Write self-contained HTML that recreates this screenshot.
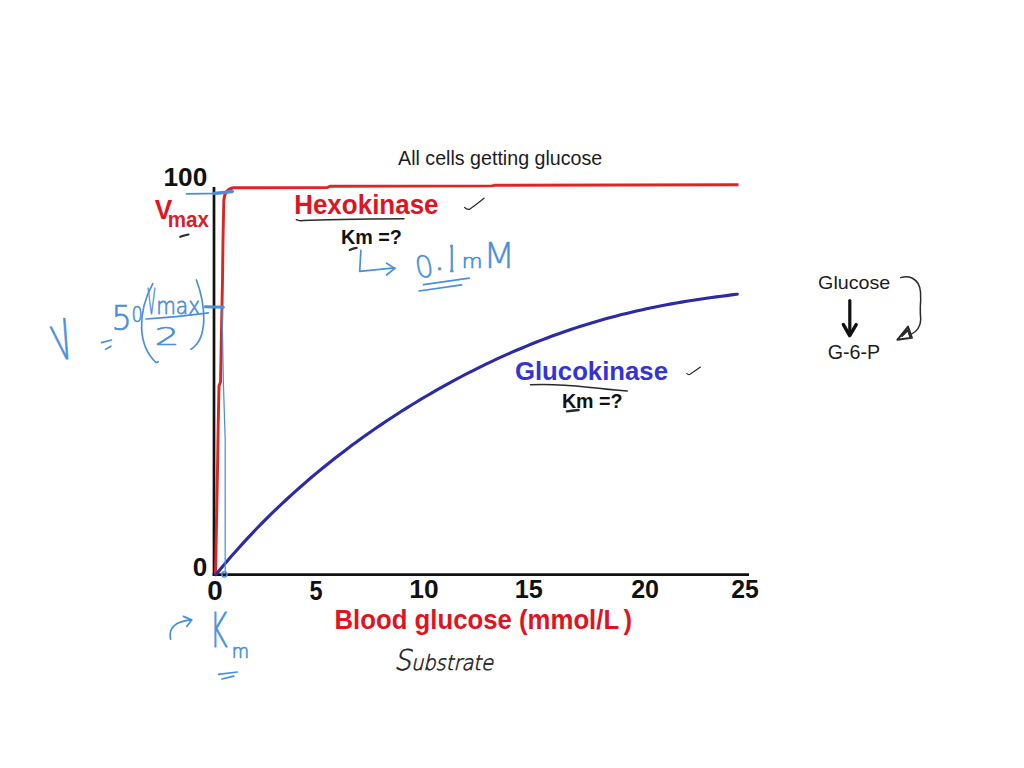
<!DOCTYPE html>
<html><head><meta charset="utf-8">
<title>Hexokinase vs Glucokinase</title>
<style>
html,body{margin:0;padding:0;background:#fff;overflow:hidden;}
svg{display:block;}
.b{font-weight:bold;}
.hw{fill:none;stroke:#4a8fdc;stroke-width:1.7;stroke-linecap:round;stroke-linejoin:round;}
.hk{fill:none;stroke:#2a2a2a;stroke-width:1.5;stroke-linecap:round;stroke-linejoin:round;}
</style></head>
<body>
<svg width="1024" height="768" viewBox="0 0 1024 768">
<rect width="1024" height="768" fill="#fff"/>

<text id="t_title" transform="translate(398.06 164.50) scale(0.1966 0.1987)" x="0" y="0" style='font-family:"Liberation Sans", sans-serif;font-weight:normal;font-style:normal' font-size="100" fill="#1c1c1c">All cells getting glucose</text>
<text id="t_100" transform="translate(163.55 186.40) scale(0.2621 0.2655)" x="0" y="0" style='font-family:"Liberation Sans", sans-serif;font-weight:bold;font-style:normal' font-size="100" fill="#111">100</text>
<text id="t_V" transform="translate(154.82 218.60) scale(0.2633 0.2747)" x="0" y="0" style='font-family:"Liberation Sans", sans-serif;font-weight:bold;font-style:normal' font-size="100" fill="#e0141e">V</text>
<text id="t_max" transform="translate(167.64 226.90) scale(0.2059 0.2252)" x="0" y="0" style='font-family:"Liberation Sans", sans-serif;font-weight:bold;font-style:normal' font-size="100" fill="#d81e2a">max</text>
<text id="t_hexo" transform="translate(294.16 213.70) scale(0.2600 0.2691)" x="0" y="0" style='font-family:"Liberation Sans", sans-serif;font-weight:bold;font-style:normal' font-size="100" fill="#e0141e">Hexokinase</text>
<text id="t_km1" transform="translate(340.88 243.50) scale(0.1973 0.2064)" x="0" y="0" style='font-family:"Liberation Sans", sans-serif;font-weight:bold;font-style:normal' font-size="100" fill="#111">Km =?</text>
<text id="t_gluco" transform="translate(514.94 380.00) scale(0.2575 0.2544)" x="0" y="0" style='font-family:"Liberation Sans", sans-serif;font-weight:bold;font-style:normal' font-size="100" fill="#3434d4">Glucokinase</text>
<text id="t_km2" transform="translate(561.88 407.90) scale(0.1967 0.1948)" x="0" y="0" style='font-family:"Liberation Sans", sans-serif;font-weight:bold;font-style:normal' font-size="100" fill="#111">Km =?</text>
<text id="t_glucose" transform="translate(818.11 288.50) scale(0.1967 0.1884)" x="0" y="0" style='font-family:"Liberation Sans", sans-serif;font-weight:normal;font-style:normal' font-size="100" fill="#1c1c1c">Glucose</text>
<text id="t_g6p" transform="translate(827.71 359.30) scale(0.1966 0.1948)" x="0" y="0" style='font-family:"Liberation Sans", sans-serif;font-weight:normal;font-style:normal' font-size="100" fill="#1c1c1c">G-6-P</text>
<text id="t_y0" transform="translate(192.67 575.60) scale(0.2607 0.2585)" x="0" y="0" style='font-family:"Liberation Sans", sans-serif;font-weight:bold;font-style:normal' font-size="100" fill="#111">0</text>
<text id="t_x0" transform="translate(207.20 600.30) scale(0.2776 0.2754)" x="0" y="0" style='font-family:"Liberation Sans", sans-serif;font-weight:bold;font-style:normal' font-size="100" fill="#111">0</text>
<text id="t_x5" transform="translate(309.38 599.80) scale(0.2351 0.2723)" x="0" y="0" style='font-family:"Liberation Sans", sans-serif;font-weight:bold;font-style:normal' font-size="100" fill="#111">5</text>
<text id="t_x10" transform="translate(409.24 597.90) scale(0.2638 0.2571)" x="0" y="0" style='font-family:"Liberation Sans", sans-serif;font-weight:bold;font-style:normal' font-size="100" fill="#111">10</text>
<text id="t_x15" transform="translate(514.81 598.10) scale(0.2526 0.2637)" x="0" y="0" style='font-family:"Liberation Sans", sans-serif;font-weight:bold;font-style:normal' font-size="100" fill="#111">15</text>
<text id="t_x20" transform="translate(631.13 597.90) scale(0.2508 0.2542)" x="0" y="0" style='font-family:"Liberation Sans", sans-serif;font-weight:bold;font-style:normal' font-size="100" fill="#111">20</text>
<text id="t_x25" transform="translate(731.14 597.90) scale(0.2477 0.2542)" x="0" y="0" style='font-family:"Liberation Sans", sans-serif;font-weight:bold;font-style:normal' font-size="100" fill="#111">25</text>
<text id="t_xlab" transform="translate(334.48 629.40) scale(0.2577 0.2804)" x="0" y="0" style='font-family:"Liberation Sans", sans-serif;font-weight:bold;font-style:normal' font-size="100" fill="#e0141e">Blood glucose (mmol/L<tspan dx="16.6">)</tspan></text>

<!-- axes -->
<line x1="214" y1="187" x2="214" y2="575.5" stroke="#111" stroke-width="2.7"/>
<line x1="212.6" y1="574.6" x2="749" y2="574.6" stroke="#111" stroke-width="2.8"/>



<!-- curves -->
<path id="redcurve" d="M215.5 575 L217.5 470 L218.3 420 L219 386 L220.5 382 L221.5 330 L222.5 280 L223 240 L223.8 201 Q224.3 189.2 233.5 187.8 L327.5 187.6 L330 186.2 L492 185.9 L494.5 185.3 L738.5 184.7" fill="none" stroke="#e02424" stroke-width="2.9" stroke-linejoin="round"/>
<path id="bluecurve" d="M215.8 574.6 L216.5 573.9 L221.5 567.8 L226.5 561.9 L231.5 556.1 L236.5 550.4 L241.5 544.9 L246.5 539.4 L251.5 534.1 L256.5 528.8 L261.5 523.7 L266.5 518.7 L271.5 513.7 L276.5 508.9 L281.5 504.1 L286.5 499.5 L291.5 494.9 L296.5 490.4 L301.5 486.0 L306.5 481.6 L311.5 477.3 L316.5 473.1 L321.5 469.0 L326.5 465.0 L331.5 461.0 L336.5 457.0 L341.5 453.2 L346.5 449.4 L351.5 445.6 L356.5 441.9 L361.5 438.3 L366.5 434.8 L371.5 431.2 L376.5 427.8 L381.5 424.4 L386.5 421.0 L391.5 417.7 L396.5 414.5 L401.5 411.3 L406.5 408.1 L411.5 405.0 L416.5 402.0 L421.5 398.9 L426.5 396.0 L431.5 393.1 L436.5 390.2 L441.5 387.4 L446.5 384.6 L451.5 381.9 L456.5 379.2 L461.5 376.5 L466.5 373.9 L471.5 371.4 L476.5 368.8 L481.5 366.4 L486.5 363.9 L491.5 361.6 L496.5 359.2 L501.5 356.9 L506.5 354.7 L511.5 352.4 L516.5 350.3 L521.5 348.2 L526.5 346.1 L531.5 344.0 L536.5 342.0 L541.5 340.1 L546.5 338.2 L551.5 336.3 L556.5 334.5 L561.5 332.7 L566.5 331.0 L571.5 329.3 L576.5 327.6 L581.5 326.0 L586.5 324.4 L591.5 322.9 L596.5 321.4 L601.5 320.0 L606.5 318.6 L611.5 317.2 L616.5 315.9 L621.5 314.6 L626.5 313.4 L631.5 312.2 L636.5 311.0 L641.5 309.9 L646.5 308.8 L651.5 307.7 L656.5 306.7 L661.5 305.7 L666.5 304.8 L671.5 303.9 L676.5 303.0 L681.5 302.1 L686.5 301.3 L691.5 300.5 L696.5 299.7 L701.5 299.0 L706.5 298.2 L711.5 297.5 L716.5 296.9 L721.5 296.2 L726.5 295.6 L731.5 294.9 L736.5 294.3 L737.3 294.2" fill="none" stroke="#2b2ba6" stroke-width="3.1" stroke-linejoin="round" stroke-linecap="round"/>



<!-- right diagram -->
<line x1="849.8" y1="300.6" x2="849.8" y2="334" stroke="#111" stroke-width="3.2" stroke-linecap="round"/>
<path d="M843.4 324.6 L849.7 335.6 L856.2 324.6" fill="none" stroke="#111" stroke-width="3.4" stroke-linecap="round" stroke-linejoin="round"/>
<path d="M847.2 330.5 L849.7 336.5 L852.3 330.5 Z" fill="#111"/>

<!-- handwritten black marks -->
<g class="hk">
  <path d="M296.3 219.7 Q299 221.2 303 220.6 Q330 219 404 218.7"/>
  <path d="M464.5 207.4 Q466.5 209.8 469.6 209.3 Q477 204 484 198.2" stroke-width="1.2"/>
  <path d="M349.8 250 Q353 248.4 356.6 247.9" stroke-width="2.2"/>
  <path d="M530.5 384.7 Q555 383.5 588 387.2 Q610 389.5 627.2 391.1"/>
  <path d="M686.8 373.6 Q688.3 375 690 374.3 Q695 371 700.4 367.1" stroke-width="1.2"/>
  <path d="M566.8 411.4 Q571 410.6 578.6 410" stroke-width="2.3"/>
  <path d="M180.3 236.8 Q184 235.2 188.5 234.5" stroke-width="2.2"/>
  <path d="M900.7 277.6 Q906.6 275.8 912 278 Q919.8 282 920.5 292 Q921 300 920.3 307 Q920.2 314 920.7 319 Q920.5 327 915.4 331.5 Q912.5 333.6 910.5 334.4"/>
  <path d="M897.3 339.8 L908 326.6 L912 337.8 Z M902 336 L908 330 L910 336.5" stroke-width="1.9"/>
</g>

<!-- handwritten blue marks -->
<g class="hw">
  <!-- Vmax line -->
  <path d="M186.5 193.9 L222 193.3 Q228 192.6 233.3 191.4" />
  <path d="M214 193.4 L232 191.6" stroke-width="3.2"/>
  <!-- half tick -->
  <path d="M205.5 306.8 L223.4 307.2" stroke-width="3"/>
  <!-- vertical to Km -->
  <path d="M222 308 L223.3 380 L225.2 440 L225.2 572" stroke-width="1.25"/>
  <circle cx="224.4" cy="574.3" r="2.6" stroke-width="1.5"/>
  <!-- = signs -->
  <path d="M101.5 342.6 L111.4 340"/>
  <path d="M105.6 349.4 L110.8 346.2"/>
  <path d="M218.5 674.4 L237.3 672"/>
  <path d="M222 679 L233.8 676.1"/>
  <!-- parens -->
  <path d="M152.8 283.7 Q141 305 141.6 328 Q142.5 350 156 362.5 Q158 362.5 158.2 361.5"/>
  <path d="M196.4 280 Q204 300 203.8 320 Q203 342 191 349.2"/>
  <!-- fraction line -->
  <path d="M145.9 319 Q175 317 208.4 312.8"/>
  <!-- 0.1mM arrow -->
  <path d="M360.9 250.3 L359.7 271.4 L394.8 267.9"/>
  <path d="M386.6 263.2 L394.8 268.4 L386.6 275"/>
  <!-- double underline -->
  <path d="M423.5 284.6 L469.2 278.2"/>
  <path d="M419 291 L461.6 284.8"/>
  <!-- curved arrow bottom-left -->
  <path d="M170.5 639.2 Q167 622 191.6 619.9"/>
  <path d="M183.4 616.4 L191.6 619.9 L186.9 626.4"/>
</g>

<clipPath id="cV"><polygon points="40,326.5 57,326.5 57,300 80,300 80,370 40,370"/></clipPath>
<g clip-path="url(#cV)"><text transform="translate(56.20 358.80) skewX(16) scale(0.3142 0.5597)" x="0" y="0" style='font-family:"DejaVu Sans", sans-serif;font-weight:200;font-style:normal' font-size="100" fill="#4a8fdc" stroke="#4a8fdc" stroke-width="1.91" stroke-linejoin="round">V</text></g>
<text transform="translate(111.45 330.03) scale(0.3190 0.3297)" x="0" y="0" style='font-family:"DejaVu Sans", sans-serif;font-weight:200;font-style:normal' font-size="100" fill="#4a8fdc" stroke="#4a8fdc" stroke-width="2.16" stroke-linejoin="round">5</text>
<text transform="translate(131.43 322.20) scale(0.1762 0.2048)" x="0" y="0" style='font-family:"DejaVu Sans", sans-serif;font-weight:200;font-style:normal' font-size="100" fill="#4a8fdc" stroke="#4a8fdc" stroke-width="3.16" stroke-linejoin="round">0</text>
<text transform="translate(147.13 314.40) scale(0.1208 0.3484)" x="0" y="0" style='font-family:"DejaVu Sans", sans-serif;font-weight:200;font-style:normal' font-size="100" fill="#4a8fdc" stroke="#4a8fdc" stroke-width="3.41" stroke-linejoin="round">V</text>
<text transform="translate(156.22 313.86) scale(0.2015 0.2386)" x="0" y="0" style='font-family:"DejaVu Sans", sans-serif;font-weight:200;font-style:normal' font-size="100" fill="#4a8fdc" stroke="#4a8fdc" stroke-width="3.19" stroke-linejoin="round">max</text>
<text transform="translate(154.47 345.10) scale(0.3942 0.2479)" x="0" y="0" style='font-family:"DejaVu Sans", sans-serif;font-weight:200;font-style:normal' font-size="100" fill="#4a8fdc" stroke="#4a8fdc" stroke-width="2.24" stroke-linejoin="round">2</text>
<text transform="translate(416.59 276.77) skewX(9) scale(0.2929 0.2960)" x="0" y="0" style='font-family:"DejaVu Sans", sans-serif;font-weight:200;font-style:normal' font-size="100" fill="#4a8fdc" stroke="#4a8fdc" stroke-width="1.53" stroke-linejoin="round">0</text>
<text transform="translate(432.39 270.20) scale(0.4417 0.3576)" x="0" y="0" style='font-family:"DejaVu Sans", sans-serif;font-weight:200;font-style:normal' font-size="100" fill="#4a8fdc" stroke="#4a8fdc" stroke-width="1.76" stroke-linejoin="round">.</text>
<clipPath id="c1"><rect x="450.2" y="244" width="3.2" height="29"/></clipPath>
<text clip-path="url(#c1)" x="439.47" y="271.9" style='font-family:"DejaVu Sans", sans-serif;font-weight:200' font-size="36.6" fill="#4a8fdc" stroke="#4a8fdc" stroke-width="0.35">1</text>
<text transform="translate(461.68 267.60) scale(0.2134 0.1857)" x="0" y="0" style='font-family:"DejaVu Sans", sans-serif;font-weight:200;font-style:normal' font-size="100" fill="#4a8fdc" stroke="#4a8fdc" stroke-width="3.52" stroke-linejoin="round">m</text>
<text transform="translate(482.88 268.10) scale(0.3749 0.3484)" x="0" y="0" style='font-family:"DejaVu Sans", sans-serif;font-weight:200;font-style:normal' font-size="100" fill="#4a8fdc" stroke="#4a8fdc" stroke-width="0.97" stroke-linejoin="round">M</text>
<text transform="translate(209.94 647.40) scale(0.2695 0.4815)" x="0" y="0" style='font-family:"DejaVu Sans", sans-serif;font-weight:200;font-style:normal' font-size="100" fill="#4a8fdc" stroke="#4a8fdc" stroke-width="1.94" stroke-linejoin="round">K</text>
<text transform="translate(231.79 658.00) scale(0.1776 0.1982)" x="0" y="0" style='font-family:"DejaVu Sans", sans-serif;font-weight:200;font-style:normal' font-size="100" fill="#4a8fdc" stroke="#4a8fdc" stroke-width="3.73" stroke-linejoin="round">m</text>
<text transform="translate(394 669.5) skewX(-13)" x="0" y="0" textLength="99" lengthAdjust="spacingAndGlyphs" style='font-family:"DejaVu Sans", sans-serif;font-weight:200' font-size="28.7" fill="#1e1e1e" stroke="#1e1e1e" stroke-width="0.6">S<tspan font-size="21">ubstrate</tspan></text>

</svg>
</body></html>
